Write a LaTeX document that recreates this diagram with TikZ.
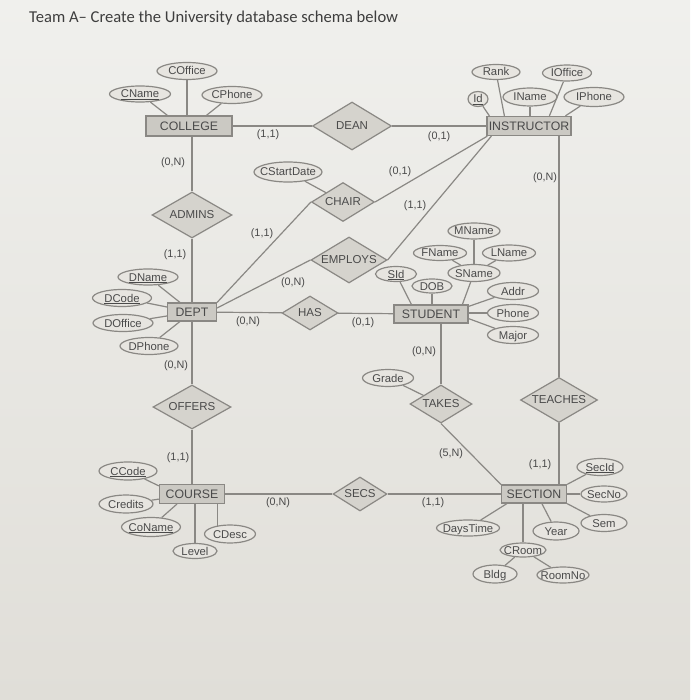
\documentclass[tikz,border=0pt]{standalone}
\usepackage{fontspec}
\setmainfont{Liberation Sans}
\newfontfamily\titlefont{Carlito}
\usetikzlibrary{shapes.geometric,calc}
\definecolor{bgtop}{RGB}{240,240,237}
\definecolor{bgbot}{RGB}{224,222,216}
\definecolor{linec}{RGB}{138,136,132}
\definecolor{entfill}{RGB}{203,201,195}
\definecolor{relfill}{RGB}{213,211,205}
\definecolor{attrfill}{RGB}{231,229,224}
\definecolor{txtc}{RGB}{74,74,74}
\definecolor{titlec}{RGB}{62,62,62}
\begin{document}
\begin{tikzpicture}[x=1pt,y=-1pt,
  ent/.style 2 args={rectangle, draw=linec, fill=entfill, line width=1.2pt, minimum width=#1pt, minimum height=#2pt, inner sep=0pt, text=txtc, font=\fontsize{12.3}{14}\selectfont},
  rel/.style 2 args={diamond, draw=linec, fill=relfill, line width=1.2pt, minimum width=#1pt, minimum height=#2pt, inner sep=0pt, aspect=1.6, text=txtc, font=\fontsize{11.5}{13}\selectfont},
  attr/.style 2 args={ellipse, draw=linec, fill=attrfill, line width=1.2pt, minimum width=#1pt, minimum height=#2pt, inner xsep=-12pt, inner ysep=-3pt, text height=8pt, text depth=0pt, text=txtc, font=\fontsize{11.3}{13}\selectfont},
  card/.style={inner sep=0pt, text=txtc, font=\fontsize{10.8}{12}\selectfont},
  conn/.style={draw=linec, line width=1.2pt},
]
\shade[top color=bgtop, bottom color=bgbot] (0,0) rectangle (690,700);
\useasboundingbox (0,0) rectangle (690,700);

\node[anchor=west, inner sep=0pt, text=titlec, font=\titlefont\fontsize{16.6}{19}\selectfont] (title) at (29,18) {Team A– Create the University database schema below};

% entities
\node[ent={86}{20}] (college) at (189,126) {COLLEGE};
\node[ent={84}{19}] (instr) at (529,126) {INSTRUCTOR};
\node[ent={49}{18}] (dept) at (192,312) {DEPT};
\node[ent={74}{18}] (student) at (431,314) {STUDENT};
\node[ent={65}{19}] (course) at (192,494) {COURSE};
\node[ent={65}{18}] (section) at (534,494) {SECTION};

% relationships
\node[rel={79}{48}] (dean) at (352,126) {DEAN};
\node[rel={80}{46}] (admins) at (192,215) {ADMINS};
\node[rel={63}{39}] (chair) at (343,202) {CHAIR};
\node[rel={76}{46}] (employs) at (349,260) {EMPLOYS};
\node[rel={56}{34}] (has) at (310,313) {HAS};
\node[rel={78}{44}] (offers) at (192,407) {OFFERS};
\node[rel={54}{34}] (secs) at (360,494) {SECS};
\node[rel={62}{38}] (takes) at (441,404) {TAKES};
\node[rel={77}{45}] (teaches) at (559,400) {TEACHES};

% attributes
\node[attr={60}{17}] (coffice) at (187,71) {COffice};
\node[attr={61}{16}] (cname) at (140,94) {\underline{CName}};
\node[attr={60}{17}] (cphone) at (232,95) {CPhone};
\node[attr={48}{15}] (rank) at (496,72) {Rank};
\node[attr={49}{16}] (ioffice) at (567,73) {IOffice};
\node[attr={20}{15}] (iid) at (478,99) {\underline{Id}};
\node[attr={54}{18}] (iname) at (530,97) {IName};
\node[attr={60}{19}] (iphone) at (594,97) {IPhone};
\node[attr={68}{20}] (cstart) at (288,172) {CStartDate};
\node[attr={52}{16}] (mname) at (474,231) {MName};
\node[attr={53}{15}] (fname) at (440,253) {FName};
\node[attr={53}{16}] (lname) at (509,253) {LName};
\node[attr={52}{17}] (sname) at (474,273) {SName};
\node[attr={41}{15}] (sid) at (396,274) {\underline{SId}};
\node[attr={40}{14}] (dob) at (432,286) {DOB};
\node[attr={51}{17}] (addr) at (513,291) {Addr};
\node[attr={51}{17}] (phone) at (513,313) {Phone};
\node[attr={51}{17}] (major) at (513,335) {Major};
\node[attr={51}{17}] (grade) at (388,378) {Grade};
\node[attr={60}{16}] (dname) at (148,277) {\underline{DName}};
\node[attr={59}{17}] (dcode) at (122,298) {\underline{DCode}};
\node[attr={60}{17}] (doffice) at (123,323) {DOffice};
\node[attr={58}{17}] (dphone) at (149,346) {DPhone};
\node[attr={58}{18}] (ccode) at (128,471) {\underline{CCode}};
\node[attr={54}{18}] (credits) at (126,504) {Credits};
\node[attr={59}{19}] (coname) at (151,527) {\underline{CoName}};
\node[attr={51}{18}] (cdesc) at (230,534) {CDesc};
\node[attr={44}{15}] (level) at (195,551) {Level};
\node[attr={46}{17}] (secid) at (600,467) {\underline{SecId}};
\node[attr={46}{16}] (secno) at (604,494) {SecNo};
\node[attr={46}{17}] (sem) at (604,523) {Sem};
\node[attr={46}{18}] (year) at (556,531) {Year};
\node[attr={63}{16}] (days) at (468,528) {DaysTime};
\node[attr={46}{14}] (croom) at (523,550) {CRoom};
\node[attr={44}{18}] (bldg) at (495,574) {Bldg};
\node[attr={52}{16}] (roomno) at (563,575) {RoomNo};

% relationship connectors
\draw[conn] (college) -- (dean);
\draw[conn] (dean) -- (instr);
\draw[conn] (admins.north) -- (admins.north |- college.south);
\draw[conn] (admins) -- (dept);
\draw[conn] (dept) -- (offers);
\draw[conn] (offers) -- (course);
\draw[conn] (dept.north east) -- (chair.west);
\draw[conn] ($(dept.east)+(0,-4)$) -- (employs.west);
\draw[conn] (chair.east) -- ($(instr.south west)+(1,0)$);
\draw[conn] (employs.east) -- ($(instr.south west)+(5,0)$);
\draw[conn] (cstart) -- (chair);
\draw[conn] (dept) -- (has);
\draw[conn] (has) -- (student);
\draw[conn] (teaches.north) -- (teaches.north |- instr.south);
\draw[conn] (teaches.south) -- (teaches.south |- section.north);
\draw[conn] (takes.north) -- (takes.north |- student.south);
\draw[conn] (takes.south) -- (section.north west);
\draw[conn] (grade) -- (takes);
\draw[conn] (course) -- (secs);
\draw[conn] (secs) -- (section);

% attribute connectors
\draw[conn] (cname) -- ($(college.north west)+(22,0)$);
\draw[conn] (coffice) -- (coffice |- college.north);
\draw[conn] (cphone) -- ($(college.north west)+(61,0)$);
\draw[conn] (iid) -- ($(instr.north west)+(3,0)$);
\draw[conn] (rank) -- ($(instr.north west)+(18,0)$);
\draw[conn] (iname) -- (iname |- instr.north);
\draw[conn] (ioffice) -- ($(instr.north west)+(63,0)$);
\draw[conn] (iphone) -- ($(instr.north west)+(79,0)$);
\draw[conn] (dname) -- (dept);
\draw[conn] (dcode) -- (dept);
\draw[conn] (doffice) -- (dept);
\draw[conn] (dphone) -- (dept);
\draw[conn] (sid) -- ($(student.north west)+(18,0)$);
\draw[conn] (dob) -- (dob |- student.north);
\draw[conn] (sname) -- ($(student.north west)+(69,0)$);
\draw[conn] (mname) -- (sname);
\draw[conn] (fname) -- (sname);
\draw[conn] (lname) -- (sname);
\draw[conn] (addr) -- ($(student.north east)+(0,2)$);
\draw[conn] (phone) -- (phone -| student.east);
\draw[conn] (major) -- ($(student.south east)+(0,-5)$);
\draw[conn] (ccode) -- ($(course.north west)+(0,2)$);
\draw[conn] (credits) -- ($(course.south west)+(0,-5)$);
\draw[conn] (coname) -- ($(course.south west)+(18,0)$);
\draw[conn] (level) -- (level |- course.south);
\draw[conn] (cdesc.146) -- (cdesc.146 |- course.south);
\draw[conn] (secid) -- (section.north east);
\draw[conn] (secno) -- (secno -| section.east);
\draw[conn] (sem) -- (section.south east);
\draw[conn] (year) -- ($(section.south west)+(41,0)$);
\draw[conn] (croom) -- (croom |- section.south);
\draw[conn] (days) -- ($(section.south west)+(6,0)$);
\draw[conn] (croom) -- (bldg);
\draw[conn] (croom) -- (roomno);

% cardinalities
\node[card] (c1) at (268,135) {(1,1)};
\node[card] (c2) at (439,137) {(0,1)};
\node[card] (c3) at (173,163) {(0,N)};
\node[card] (c4) at (175,255) {(1,1)};
\node[card] (c5) at (176,366) {(0,N)};
\node[card] (c6) at (178,458) {(1,1)};
\node[card] (c7) at (262,234) {(1,1)};
\node[card] (c8) at (400,172) {(0,1)};
\node[card] (c9) at (415,206) {(1,1)};
\node[card] (c10) at (293,283) {(0,N)};
\node[card] (c11) at (248,322) {(0,N)};
\node[card] (c12) at (363,323) {(0,1)};
\node[card] (c13) at (545,178) {(0,N)};
\node[card] (c14) at (424,352) {(0,N)};
\node[card] (c15) at (451,454) {(5,N)};
\node[card] (c16) at (540,465) {(1,1)};
\node[card] (c17) at (278,503) {(0,N)};
\node[card] (c18) at (433,503) {(1,1)};
\end{tikzpicture}
\end{document}
